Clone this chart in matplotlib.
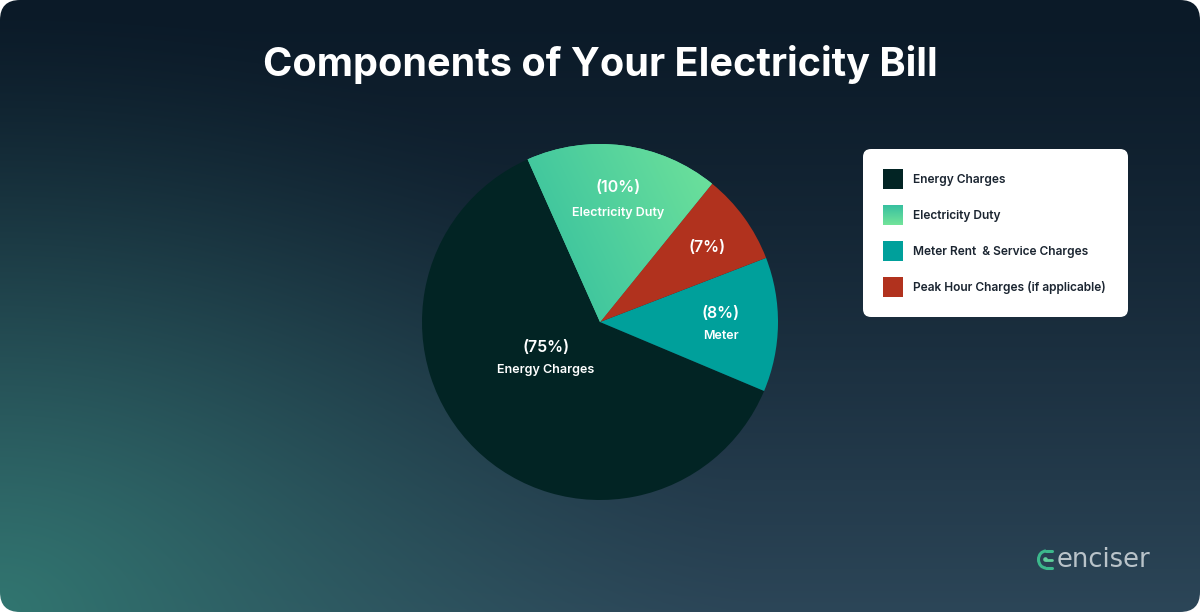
import numpy as np
import matplotlib.pyplot as plt
from matplotlib.patches import FancyBboxPatch, Rectangle, Circle, Arc
from matplotlib.colors import to_rgb

# categories in legend order
categories = ["Energy Charges", "Electricity Duty",
              "Meter Rent  & Service Charges", "Peak Hour Charges (if applicable)"]
# share of the circle each slice takes in the picture (%)
slice_shares = [62.0, 17.5, 12.2, 8.3]
# percentages printed on the slices
label_pcts = [75, 10, 8, 7]
slice_names = ["Energy Charges", "Electricity Duty", "Meter", ""]
colors = ["#022424", "#4fd29f", "#00a09b", "#b1321e"]

W, H = 1200, 612
FONT = "Inter"


def Y(y):
    return H - y


fig = plt.figure(figsize=(12, 6.12), dpi=100)
fig.patch.set_facecolor("white")
ax = fig.add_axes([0, 0, 1, 1])

# background gradient, clipped to a rounded card
yy, xx = np.mgrid[0:H, 0:W]
t = (yy / H) ** 1.3
top = np.array(to_rgb("#0b1a28"))
bot = np.array(to_rgb("#2c4658"))
img = top * (1 - t[..., None]) + bot * t[..., None]
d = np.hypot(xx / W * 1.6, (H - yy) / H)
glow = np.clip(1 - d / 1.0, 0, 1) ** 1.5
teal = np.array(to_rgb("#317670"))
img = img * (1 - glow[..., None]) + teal * glow[..., None]
card = FancyBboxPatch((0, 0), W, H, boxstyle="round,pad=0,rounding_size=20",
                      facecolor="none", edgecolor="none")
ax.add_patch(card)
bg = ax.imshow(img, extent=[0, W, 0, H], origin="upper", zorder=0)
bg.set_clip_path(card)

# pie, drawn counter-clockwise: Energy, Meter, Peak, Duty
order = [0, 2, 3, 1]
cx, cy, R = 600, Y(322), 178
wedges, _ = ax.pie([slice_shares[i] for i in order],
                   colors=[colors[i] for i in order],
                   startangle=114, counterclock=True,
                   center=(cx, cy), radius=R,
                   wedgeprops=dict(linewidth=0, zorder=2))

# gradient fill for Electricity Duty
duty = wedges[3]
gy, gx = np.mgrid[0:200, 0:200]
g = np.clip((gx * 0.8 + (200 - gy) * 0.35) / 220, 0, 1)
c1, c2 = np.array(to_rgb("#2fbc9f")), np.array(to_rgb("#6fe29b"))
gimg = c1 * (1 - g[..., None]) + c2 * g[..., None]
gi = ax.imshow(gimg, extent=[cx - 80, cx + 120, cy, cy + R + 5],
               origin="upper", zorder=3)
gi.set_clip_path(duty)

# slice labels (pixel positions of percentage / name lines)
label_pos = [(546, 347, 370), (618, 188, 213), (721, 313, 336), (707, 248, None)]
for i in range(4):
    lx, py, ny = label_pos[i]
    ax.text(lx, Y(py), f"({label_pcts[i]}%)", color="white", fontsize=11.5,
            fontweight="semibold", family=FONT, ha="center", va="center", zorder=5)
    if slice_names[i]:
        ax.text(lx, Y(ny), slice_names[i], color="white", fontsize=9,
                fontweight="semibold", family=FONT, ha="center", va="center", zorder=5)

# title
ax.text(600, Y(64), "Components of Your Electricity Bill", color="white",
        fontsize=28.5, fontweight="bold", family=FONT, ha="center", va="center")

# legend card
ax.add_patch(FancyBboxPatch((863, Y(317)), 265, 168,
                            boxstyle="round,pad=0,rounding_size=8",
                            facecolor="white", edgecolor="none", zorder=4))
for k, (name, col) in enumerate(zip(categories, colors)):
    yc = Y(179 + 36 * k)
    if k == 1:
        sw = np.linspace(0, 1, 50)[:, None, None]
        simg = np.array(to_rgb("#38c0a0")) * (1 - sw) + np.array(to_rgb("#72e49a")) * sw
        simg = np.repeat(simg, 2, axis=1)
        ax.imshow(simg, extent=[883, 903, yc - 10, yc + 10], origin="upper",
                  zorder=5, aspect="auto")
    else:
        ax.add_patch(Rectangle((883, yc - 10), 20, 20, facecolor=col,
                               edgecolor="none", zorder=5))
    ax.text(913, yc - 1, name, color="#1b2531", fontsize=8.6, fontweight="semibold",
            family=FONT, ha="left", va="center", zorder=6)

# logo
lc = "#3cb88c"
ax.add_patch(Arc((1046, Y(559.5)), 15, 17, theta1=90, theta2=270,
                 color=lc, lw=2.2, zorder=5))
ax.plot([1046, 1052], [Y(551), Y(551)], color=lc, lw=2.2, solid_capstyle="round")
ax.plot([1046, 1052], [Y(568), Y(568)], color=lc, lw=2.2, solid_capstyle="round")
ax.plot([1046, 1052], [Y(559.5), Y(559.5)], color="#5fcf9b", lw=2, solid_capstyle="round")
ax.add_patch(Circle((1045.5, Y(559.5)), 2.3, facecolor="#5fcf9b", edgecolor="none", zorder=6))
ax.text(1057, Y(560), "enciser", color="#b9c3c9", fontsize=18.5, family="DejaVu Sans",
        ha="left", va="center")

ax.set_xlim(0, W)
ax.set_ylim(0, H)
ax.set_aspect("auto")
ax.axis("off")

fig.savefig("out.png", dpi=100, facecolor="white")
